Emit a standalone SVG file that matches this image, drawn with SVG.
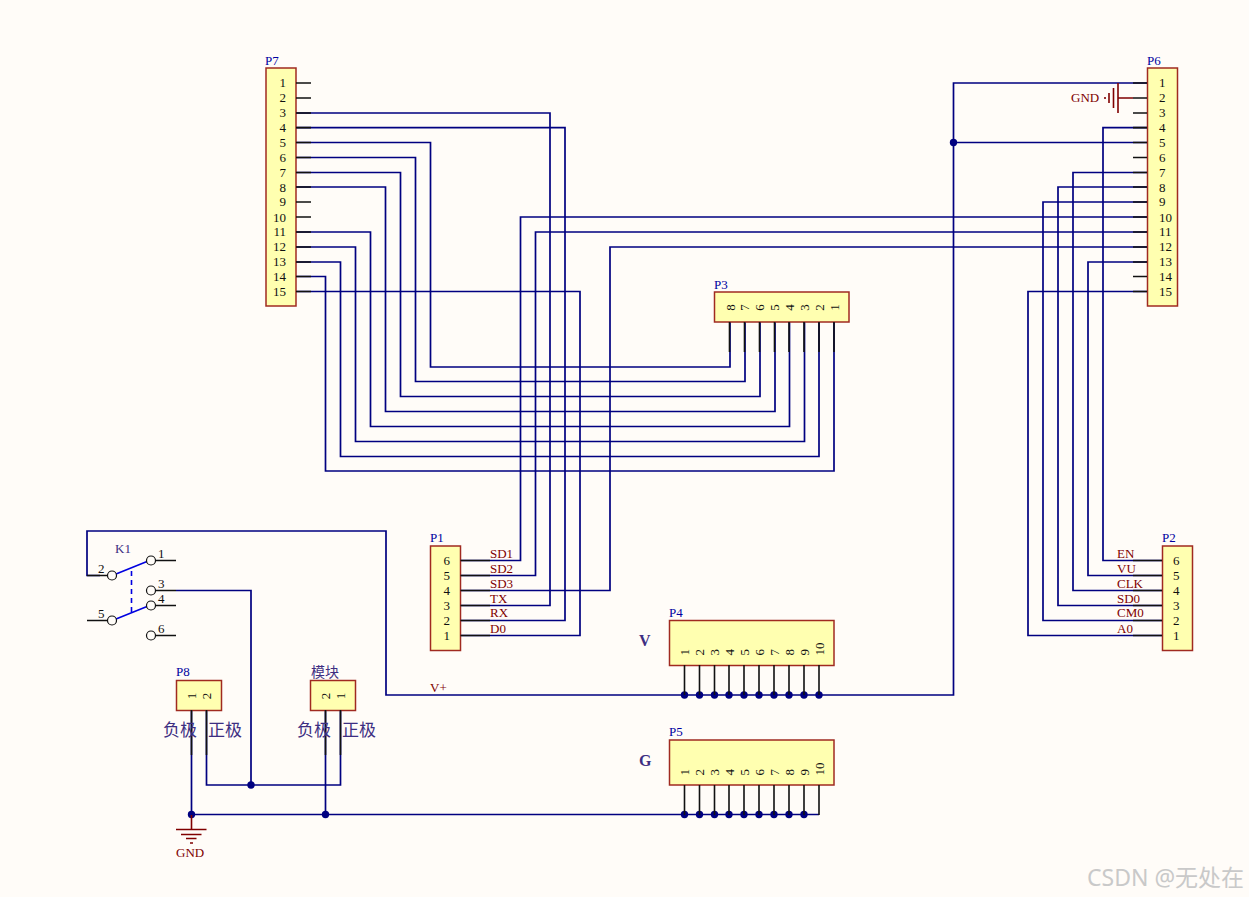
<svg xmlns="http://www.w3.org/2000/svg" width="1249" height="897" viewBox="0 0 1249 897">
<style>
text{font-family:"Liberation Serif","Noto Sans CJK SC",serif;font-size:13px;fill:#101010}
.box{fill:#ffffb0;stroke:#a02a20;stroke-width:1.5}
.w{fill:none;stroke:#000080;stroke-width:1.7}
.p{fill:none;stroke:#111;stroke-width:1.6}
.r{fill:none;stroke:#800000;stroke-width:1.6}
.d{fill:#000080}
.n{fill:#0000a0}
.l{fill:#800000}
.c{font-family:"Noto Sans CJK SC",sans-serif;font-size:17px;fill:#3d2e82}
.b{font-weight:bold;font-size:16px;fill:#3d2e82}
.sw{fill:none;stroke:#0000e0;stroke-width:1.6}
.o{fill:#fffcf8;stroke:#111;stroke-width:1.2}
.m{text-anchor:middle}
.t{text-anchor:end}
</style>
<rect width="1249" height="897" fill="#fffcf8"/>
<g id="connectors">
<path class="w" d="M296 113H550V605.500H460M296 127.600H565V620.500H460M296 291.500H580V635.500H460"/>
<path class="w" d="M296 142.500H430.500V367H730V322M296 157.500H415.500V381.500H745V322M296 172.500H400.500V396.500H760V322M296 187H385.500V411.500H775V322"/>
<path class="w" d="M296 232H370.500V426.500H789.500V322M296 247H355.500V441.500H804.500V322M296 262H340.500V456.500H819V322M296 276.500H325.500V471H834V322"/>
<path class="w" d="M1147 217H520.500V560.500H460M1147 232H535.500V575.500H460M1147 247H610V590.500H460"/>
<path class="w" d="M1147 127.600H1103V560.500H1162M1147 262H1088V575.500H1162M1147 172.500H1073V590.500H1162M1147 187H1058V605.500H1162M1147 202H1043V620.500H1162M1147 291.500H1028V635.500H1162"/>
<path class="w" d="M1147 83H953.500V695H386V531H87V575.500H100M953.500 142.500H1147"/>
<path class="w" d="M176 590.500H251V785"/>
<path class="w" d="M206.500 710V785H340.500V710M191.500 710V814.500H819M325.500 710V814.500"/>
<circle class="d" cx="953.500" cy="142.500" r="3.700"/>
<circle class="d" cx="251" cy="785" r="3.700"/>
<circle class="d" cx="191.500" cy="814.500" r="3.700"/>
<circle class="d" cx="325.500" cy="814.500" r="3.700"/>
<circle class="d" cx="684.500" cy="695" r="3.700"/><circle class="d" cx="699.500" cy="695" r="3.700"/><circle class="d" cx="714.500" cy="695" r="3.700"/><circle class="d" cx="729" cy="695" r="3.700"/><circle class="d" cx="744" cy="695" r="3.700"/><circle class="d" cx="759" cy="695" r="3.700"/><circle class="d" cx="774" cy="695" r="3.700"/><circle class="d" cx="789" cy="695" r="3.700"/><circle class="d" cx="804" cy="695" r="3.700"/><circle class="d" cx="819" cy="695" r="3.700"/>
<circle class="d" cx="684.500" cy="814.500" r="3.700"/><circle class="d" cx="699.500" cy="814.500" r="3.700"/><circle class="d" cx="714.500" cy="814.500" r="3.700"/><circle class="d" cx="729" cy="814.500" r="3.700"/><circle class="d" cx="744" cy="814.500" r="3.700"/><circle class="d" cx="759" cy="814.500" r="3.700"/><circle class="d" cx="774" cy="814.500" r="3.700"/><circle class="d" cx="789" cy="814.500" r="3.700"/><circle class="d" cx="804" cy="814.500" r="3.700"/>
</g>
<g id="P7">
<rect class="box" x="266" y="68" width="30" height="238"/>
<path class="p" d="M296 83H311M296 98H311M296 113H311M296 127.600H311M296 142.500H311M296 157.500H311M296 172.500H311M296 187H311M296 202H311M296 217H311M296 232H311M296 247H311M296 262H311M296 276.500H311M296 291.500H311"/>
<text class="n" x="265" y="65">P7</text>
<text class="t" x="286" y="87">1</text><text class="t" x="286" y="102">2</text><text class="t" x="286" y="117">3</text><text class="t" x="286" y="132">4</text><text class="t" x="286" y="147">5</text><text class="t" x="286" y="162">6</text><text class="t" x="286" y="177">7</text><text class="t" x="286" y="192">8</text><text class="t" x="286" y="206">9</text><text class="t" x="286" y="222">10</text><text class="t" x="286" y="236">11</text><text class="t" x="286" y="251">12</text><text class="t" x="286" y="266">13</text><text class="t" x="286" y="281">14</text><text class="t" x="286" y="296">15</text>
</g>
<g id="P6">
<rect class="box" x="1147.500" y="68" width="30" height="238"/>
<path class="p" d="M1133 83H1147M1133 98H1147M1133 113H1147M1133 127.600H1147M1133 142.500H1147M1133 157.500H1147M1133 172.500H1147M1133 187H1147M1133 202H1147M1133 217H1147M1133 232H1147M1133 247H1147M1133 262H1147M1133 276.500H1147M1133 291.500H1147"/>
<text class="n" x="1147" y="65">P6</text>
<text x="1159" y="87">1</text><text x="1159" y="102">2</text><text x="1159" y="117">3</text><text x="1159" y="132">4</text><text x="1159" y="147">5</text><text x="1159" y="162">6</text><text x="1159" y="177">7</text><text x="1159" y="192">8</text><text x="1159" y="206">9</text><text x="1159" y="222">10</text><text x="1159" y="236">11</text><text x="1159" y="251">12</text><text x="1159" y="266">13</text><text x="1159" y="281">14</text><text x="1159" y="296">15</text>
</g>
<g id="GND-P6">
<path class="r" d="M1133 98H1118M1118 83V113M1113.500 88V108M1109 93V103M1105 97V99"/>
<text class="l" x="1071" y="102">GND</text>
</g>
<g id="P3">
<rect class="box" x="714.500" y="292" width="134.500" height="30"/>
<path class="p" d="M729.500 322V352M744.500 322V352M759.500 322V352M774.500 322V352M789 322V352M804 322V352M819 322V352M834 322V352"/>
<text class="n" x="714" y="289">P3</text>
<text class="m" transform="translate(734.500 307.500) rotate(-90)">8</text><text class="m" transform="translate(749 307.500) rotate(-90)">7</text><text class="m" transform="translate(764 307.500) rotate(-90)">6</text><text class="m" transform="translate(779 307.500) rotate(-90)">5</text><text class="m" transform="translate(793.500 307.500) rotate(-90)">4</text><text class="m" transform="translate(808.500 307.500) rotate(-90)">3</text><text class="m" transform="translate(823.500 307.500) rotate(-90)">2</text><text class="m" transform="translate(838.500 307.500) rotate(-90)">1</text>
</g>
<g id="P1">
<rect class="box" x="430.500" y="546" width="30" height="104.500"/>
<path class="p" d="M460.500 560.500H490M460.500 575.500H490M460.500 590.500H490M460.500 605.500H490M460.500 620.500H490M460.500 635.500H490"/>
<text class="n" x="430" y="542">P1</text>
<text class="t" x="450" y="565">6</text><text class="t" x="450" y="580">5</text><text class="t" x="450" y="595">4</text><text class="t" x="450" y="610">3</text><text class="t" x="450" y="625">2</text><text class="t" x="450" y="640">1</text>
<text class="l" x="490" y="558">SD1</text><text class="l" x="490" y="573">SD2</text><text class="l" x="490" y="588">SD3</text><text class="l" x="490" y="603">TX</text><text class="l" x="490" y="617">RX</text><text class="l" x="490" y="633">D0</text>
</g>
<g id="P2">
<rect class="box" x="1162.500" y="546" width="30" height="104.500"/>
<path class="p" d="M1133 560.500H1162M1133 575.500H1162M1133 590.500H1162M1133 605.500H1162M1133 620.500H1162M1133 635.500H1162"/>
<text class="n" x="1162" y="542">P2</text>
<text x="1173" y="565">6</text><text x="1173" y="580">5</text><text x="1173" y="595">4</text><text x="1173" y="610">3</text><text x="1173" y="625">2</text><text x="1173" y="640">1</text>
<text class="l" x="1117" y="558">EN</text><text class="l" x="1117" y="573">VU</text><text class="l" x="1117" y="588">CLK</text><text class="l" x="1117" y="603">SD0</text><text class="l" x="1117" y="617">CM0</text><text class="l" x="1117" y="633">A0</text>
</g>
<g id="P4">
<rect class="box" x="669.500" y="620.500" width="164.500" height="45"/>
<path class="p" d="M684.500 665V695M699.500 665V695M714.500 665V695M729 665V695M744 665V695M759 665V695M774 665V695M789 665V695M804 665V695M819 665V695"/>
<text class="n" x="669" y="617">P4</text>
<text class="b" x="639" y="646">V</text>
<text transform="translate(689 655.500) rotate(-90)">1</text><text transform="translate(704 655.500) rotate(-90)">2</text><text transform="translate(718.500 655.500) rotate(-90)">3</text><text transform="translate(733.500 655.500) rotate(-90)">4</text><text transform="translate(748.500 655.500) rotate(-90)">5</text><text transform="translate(763.500 655.500) rotate(-90)">6</text><text transform="translate(778.500 655.500) rotate(-90)">7</text><text transform="translate(793.500 655.500) rotate(-90)">8</text><text transform="translate(808.500 655.500) rotate(-90)">9</text><text transform="translate(823.500 655.500) rotate(-90)">10</text>
</g>
<g id="P5">
<rect class="box" x="669.500" y="740" width="164.500" height="45"/>
<path class="p" d="M684.500 785V815M699.500 785V815M714.500 785V815M729 785V815M744 785V815M759 785V815M774 785V815M789 785V815M804 785V815M819 785V815"/>
<text class="n" x="669" y="736">P5</text>
<text class="b" x="639" y="766">G</text>
<text transform="translate(689 775.500) rotate(-90)">1</text><text transform="translate(704 775.500) rotate(-90)">2</text><text transform="translate(718.500 775.500) rotate(-90)">3</text><text transform="translate(733.500 775.500) rotate(-90)">4</text><text transform="translate(748.500 775.500) rotate(-90)">5</text><text transform="translate(763.500 775.500) rotate(-90)">6</text><text transform="translate(778.500 775.500) rotate(-90)">7</text><text transform="translate(793.500 775.500) rotate(-90)">8</text><text transform="translate(808.500 775.500) rotate(-90)">9</text><text transform="translate(823.500 775.500) rotate(-90)">10</text>
</g>
<g id="K1">
<path class="p" d="M87 575.500H108M155 560.500H176M155 590.500H176M155 605.500H176M87 620.500H108M155 635.500H176"/>
<path class="sw" d="M116 574L147 561.500M116 619L147 606.500"/>
<path class="sw" d="M131.500 571V612" stroke-dasharray="5 4"/>
<circle class="o" cx="112" cy="575.500" r="4.500"/><circle class="o" cx="151" cy="560.500" r="4.500"/><circle class="o" cx="151" cy="590.500" r="4.500"/><circle class="o" cx="151" cy="605.500" r="4.500"/><circle class="o" cx="112" cy="620.500" r="4.500"/><circle class="o" cx="151" cy="635.500" r="4.500"/>
<text x="115" y="553" style="fill:#3d2e82">K1</text>
<text x="158" y="558">1</text><text x="98" y="573">2</text><text x="158" y="588">3</text><text x="158" y="603">4</text><text x="98" y="618">5</text><text x="158" y="633">6</text>
</g>
<g id="P8">
<rect class="box" x="176.500" y="680.500" width="45" height="30"/>
<path class="p" d="M191.500 710V755M206.500 710V755"/>
<text class="n" x="176" y="676">P8</text>
<text class="m" transform="translate(195.500 696) rotate(-90)">1</text><text class="m" transform="translate(210.500 696) rotate(-90)">2</text>
<text class="c" x="163" y="736">负极</text><text class="c" x="208" y="736">正极</text>
</g>
<g id="module">
<rect class="box" x="310.500" y="680.500" width="45" height="30"/>
<path class="p" d="M325.500 710V755M340.500 710V755"/>
<text x="311" y="677" style="font-family:'Noto Sans CJK SC',sans-serif;font-size:14px;fill:#3d2e82">模块</text>
<text class="m" transform="translate(329.500 696) rotate(-90)">2</text><text class="m" transform="translate(344.500 696) rotate(-90)">1</text>
<text class="c" x="297" y="736">负极</text><text class="c" x="342" y="736">正极</text>
</g>
<g id="GND-main">
<path class="r" d="M191.500 815V829.500M176 829.500H206.500M181 834.500H201.500M186 838.500H196.500M190 843H193"/>
<text class="l" x="176" y="857">GND</text>
</g>
<text class="l" x="430" y="692">V+</text>
<text x="1087" y="886" style="font-family:'Noto Sans','Noto Sans CJK SC',sans-serif;font-size:23px;fill:#c9c9c9">CSDN @无处在</text>
</svg>
